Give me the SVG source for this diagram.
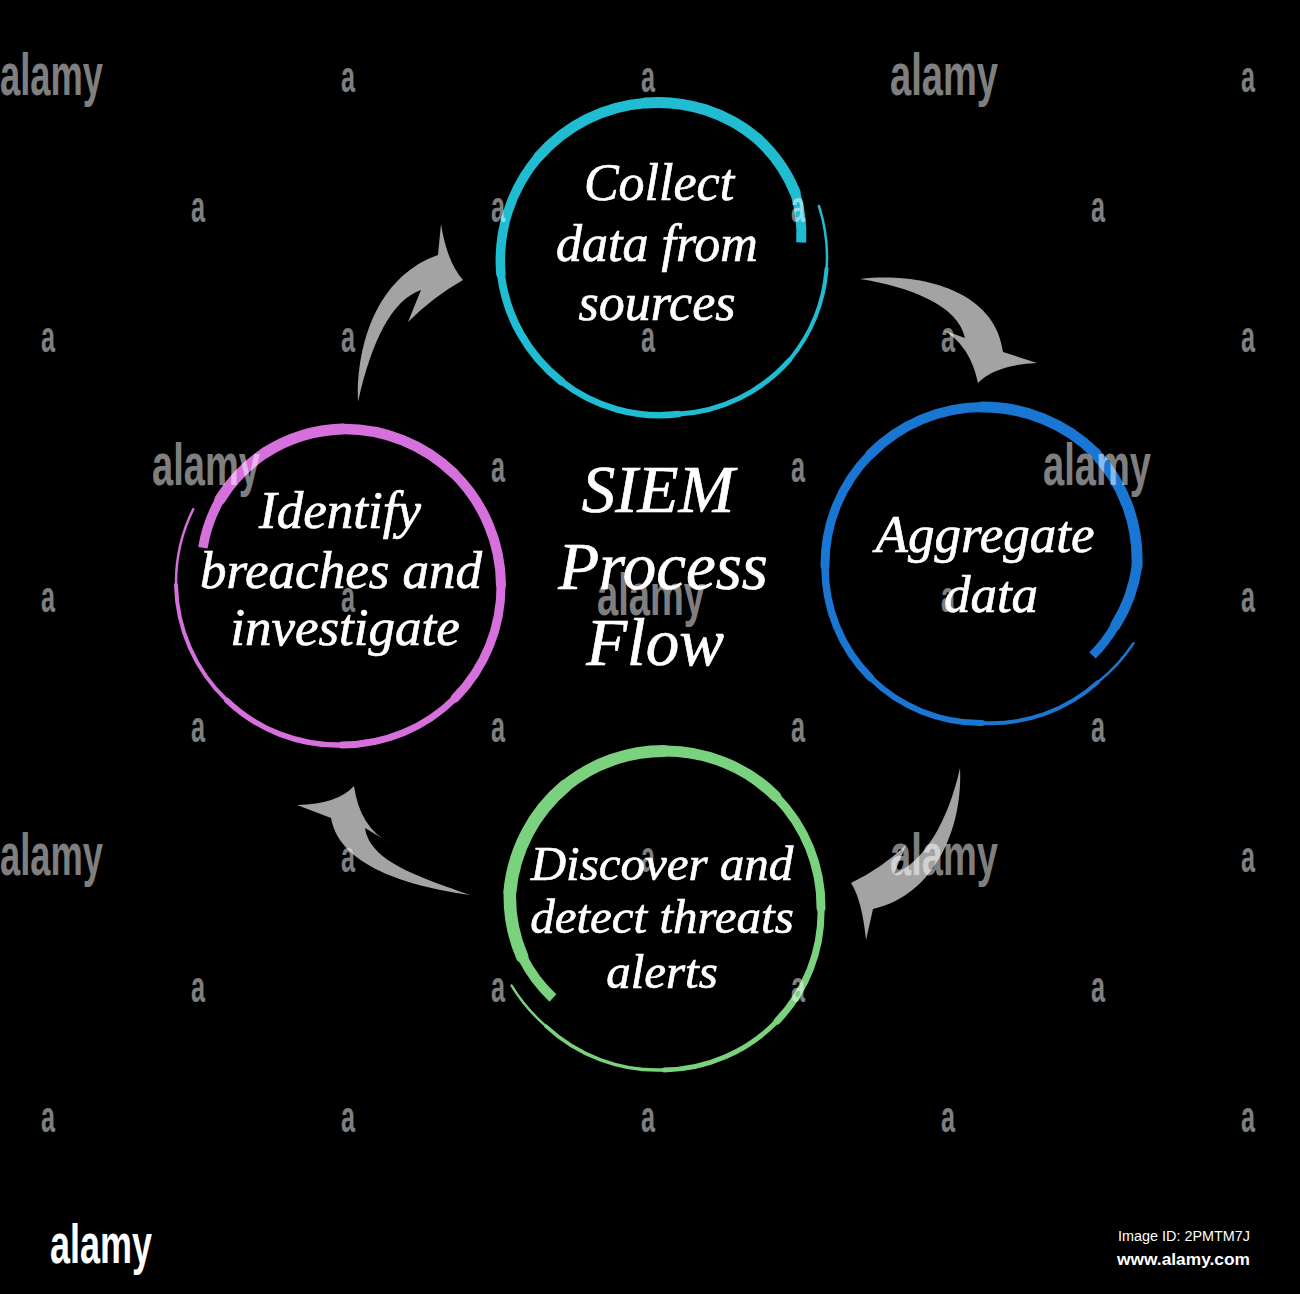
<svg xmlns="http://www.w3.org/2000/svg" width="1300" height="1294" viewBox="0 0 1300 1294">
<style>
.seg{fill:none;stroke-linecap:round}
.b{stroke-linecap:butt}
.cy{stroke:#1fbcd2}
.bl{stroke:#1976d2}
.pk{stroke:#d670dc}
.gr{stroke:#7ad27e}
.lbl{font-family:"Liberation Serif","Times New Roman",serif;font-style:italic;fill:#ffffff;stroke:#ffffff;stroke-width:0.7;text-anchor:middle}
.arrow{fill:#a3a3a3}
.wm{font-family:"Liberation Sans",Arial,sans-serif;font-weight:bold;fill:#ffffff;fill-opacity:0.5}
.ft{font-family:"Liberation Sans",Arial,sans-serif;fill:#ffffff}
</style>
<rect x="0" y="0" width="1300" height="1294" fill="#000000"/>

<g id="connectors">
<path class="arrow" d="M358,402 C356,340 380,275 438,255 L441,224 Q447,262 463,280 Q433,297 408,322 L421,290 C392,300 372,340 358,402 Z"/>
<path class="arrow" d="M860,279 C920,272 995,290 1003,352 L1037,363 Q995,365 978,383 Q970,345 943,330 L965,338 C958,305 910,287 860,279 Z"/>
<path class="arrow" d="M960,768 C963,828 935,895 873,909 L866,940 Q862,900 851,883 Q882,868 906,845 L894,874 C924,862 948,822 960,768 Z"/>
<path class="arrow" d="M470,895 C420,888 340,870 331,818 L297,805 Q338,804 354,786 Q360,828 390,843 L365,828 C370,862 420,877 470,895 Z"/>
</g>

<g id="node-collect">
<path class="seg b cy" stroke-width="10" d="M801.2,242.4 A144,144 0 0 0 795.0,192.1"/>
<path class="seg cy" stroke-width="11" d="M795.0,192.1 A150,150 0 0 0 757.7,138.9"/>
<path class="seg cy" stroke-width="11" d="M757.7,138.9 A154,154 0 0 0 645.8,102.9"/>
<path class="seg cy" stroke-width="10.5" d="M645.8,102.9 A157,157 0 0 0 538.4,156.9"/>
<path class="seg cy" stroke-width="9.5" d="M538.4,156.9 A160,160 0 0 0 500.9,273.9"/>
<path class="seg cy" stroke-width="8" d="M500.9,273.9 A161,161 0 0 0 561.3,381.3"/>
<path class="seg cy" stroke-width="6.5" d="M561.3,381.3 A159,159 0 0 0 678.5,414.1"/>
<path class="seg cy" stroke-width="5" d="M678.5,414.1 A161,161 0 0 0 789.4,360.2"/>
<path class="seg cy" stroke-width="4" d="M789.4,360.2 A164,164 0 0 0 826.6,268.5"/>
<path class="seg cy" stroke-width="2.5" d="M826.6,268.5 A165,165 0 0 0 818.9,206.0"/>
<text class="lbl" font-size="52" x="659" y="200">Collect</text>
<text class="lbl" font-size="52" x="657" y="261">data from</text>
<text class="lbl" font-size="52" x="657" y="320">sources</text>
</g>

<g id="node-aggregate">
<path class="seg b bl" stroke-width="9" d="M1092.4,655.4 A144,144 0 0 0 1115.4,625.4"/>
<path class="seg bl" stroke-width="10.5" d="M1115.4,625.4 A150,150 0 0 0 1137,566"/>
<path class="seg bl" stroke-width="11" d="M1137,566 A157,157 0 0 0 1095.1,452.9"/>
<path class="seg bl" stroke-width="11" d="M1095.1,452.9 A160,160 0 0 0 982,407"/>
<path class="seg bl" stroke-width="10" d="M982,407 A158,158 0 0 0 870.3,454.3"/>
<path class="seg bl" stroke-width="9" d="M870.3,454.3 A157,157 0 0 0 825,566"/>
<path class="seg bl" stroke-width="7.5" d="M825,566 A157,157 0 0 0 870.3,677.7"/>
<path class="seg bl" stroke-width="6" d="M870.3,677.7 A157,157 0 0 0 982,723"/>
<path class="seg bl" stroke-width="4" d="M982,723 A160,160 0 0 0 1098,682"/>
<path class="seg bl" stroke-width="2.5" d="M1098,682 A167,167 0 0 0 1133.5,643.2"/>
<text class="lbl" font-size="53" x="985" y="552">Aggregate</text>
<text class="lbl" font-size="53" x="991" y="612">data</text>
</g>

<g id="node-discover">
<path class="seg b gr" stroke-width="10" d="M552.9,998.0 A146,146 0 0 1 522.2,956.8"/>
<path class="seg gr" stroke-width="12.5" d="M522.2,956.8 A152,152 0 0 1 509.9,891.8"/>
<path class="seg gr" stroke-width="13" d="M509.9,891.8 A156,156 0 0 1 565.2,786.0"/>
<path class="seg gr" stroke-width="12" d="M565.2,786.0 A157,157 0 0 1 664,751"/>
<path class="seg gr" stroke-width="11" d="M664,751 A157,157 0 0 1 775.7,796.3"/>
<path class="seg gr" stroke-width="9" d="M775.7,796.3 A157,157 0 0 1 821,908"/>
<path class="seg gr" stroke-width="7" d="M821,908 A158,158 0 0 1 777.1,1021.1"/>
<path class="seg gr" stroke-width="5" d="M777.1,1021.1 A161,161 0 0 1 664,1070"/>
<path class="seg gr" stroke-width="3.5" d="M664,1070 A164,164 0 0 1 545.9,1026.1"/>
<path class="seg gr" stroke-width="2.5" d="M545.9,1026.1 A169,169 0 0 1 511.6,985.6"/>
<text class="lbl" font-size="49" x="662" y="880">Discover and</text>
<text class="lbl" font-size="49" x="662" y="933">detect threats</text>
<text class="lbl" font-size="49" x="662" y="988">alerts</text>
</g>

<g id="node-identify">
<path class="seg b pk" stroke-width="9.5" d="M202.9,547.7 A146,146 0 0 1 219.9,499.5"/>
<path class="seg pk" stroke-width="11" d="M219.9,499.5 A151,151 0 0 1 265.5,452.5"/>
<path class="seg pk" stroke-width="11" d="M265.5,452.5 A154,154 0 0 1 342,429"/>
<path class="seg pk" stroke-width="10.5" d="M342,429 A157,157 0 0 1 453.7,473.3"/>
<path class="seg pk" stroke-width="10" d="M453.7,473.3 A158,158 0 0 1 501,585"/>
<path class="seg pk" stroke-width="9" d="M501,585 A159,159 0 0 1 455.1,698.1"/>
<path class="seg pk" stroke-width="7" d="M455.1,698.1 A160,160 0 0 1 342,745"/>
<path class="seg pk" stroke-width="5.5" d="M342,745 A161,161 0 0 1 226.7,700.3"/>
<path class="seg pk" stroke-width="4" d="M226.7,700.3 A164,164 0 0 1 176,585"/>
<path class="seg pk" stroke-width="2.5" d="M176,585 A166,166 0 0 1 193.2,509.2"/>
<text class="lbl" font-size="53" x="340" y="528">Identify</text>
<text class="lbl" font-size="53" x="341" y="588">breaches and</text>
<text class="lbl" font-size="53" x="345" y="645">investigate</text>
</g>

<g id="title">
<text class="lbl" font-size="67" x="658" y="512">SIEM</text>
<text class="lbl" font-size="67" x="663" y="589">Process</text>
<text class="lbl" font-size="67" x="655" y="665">Flow</text>
</g>

<g id="watermark">
<text class="wm" font-size="60" x="0" y="95" textLength="103" lengthAdjust="spacingAndGlyphs">alamy</text>
<text class="wm" font-size="60" x="890" y="95" textLength="108" lengthAdjust="spacingAndGlyphs">alamy</text>
<text class="wm" font-size="60" x="152" y="485" textLength="108" lengthAdjust="spacingAndGlyphs">alamy</text>
<text class="wm" font-size="60" x="1043" y="485" textLength="108" lengthAdjust="spacingAndGlyphs">alamy</text>
<text class="wm" font-size="60" x="597" y="615" textLength="108" lengthAdjust="spacingAndGlyphs">alamy</text>
<text class="wm" font-size="60" x="0" y="875" textLength="103" lengthAdjust="spacingAndGlyphs">alamy</text>
<text class="wm" font-size="60" x="890" y="875" textLength="108" lengthAdjust="spacingAndGlyphs">alamy</text>
<g text-anchor="middle" font-size="44">
<text class="wm" x="348" y="92" textLength="14" lengthAdjust="spacingAndGlyphs">a</text>
<text class="wm" x="648" y="92" textLength="14" lengthAdjust="spacingAndGlyphs">a</text>
<text class="wm" x="1248" y="92" textLength="14" lengthAdjust="spacingAndGlyphs">a</text>
<text class="wm" x="198" y="222" textLength="14" lengthAdjust="spacingAndGlyphs">a</text>
<text class="wm" x="498" y="222" textLength="14" lengthAdjust="spacingAndGlyphs">a</text>
<text class="wm" x="798" y="222" textLength="14" lengthAdjust="spacingAndGlyphs">a</text>
<text class="wm" x="1098" y="222" textLength="14" lengthAdjust="spacingAndGlyphs">a</text>
<text class="wm" x="48" y="352" textLength="14" lengthAdjust="spacingAndGlyphs">a</text>
<text class="wm" x="348" y="352" textLength="14" lengthAdjust="spacingAndGlyphs">a</text>
<text class="wm" x="648" y="352" textLength="14" lengthAdjust="spacingAndGlyphs">a</text>
<text class="wm" x="948" y="352" textLength="14" lengthAdjust="spacingAndGlyphs">a</text>
<text class="wm" x="1248" y="352" textLength="14" lengthAdjust="spacingAndGlyphs">a</text>
<text class="wm" x="498" y="482" textLength="14" lengthAdjust="spacingAndGlyphs">a</text>
<text class="wm" x="798" y="482" textLength="14" lengthAdjust="spacingAndGlyphs">a</text>
<text class="wm" x="48" y="612" textLength="14" lengthAdjust="spacingAndGlyphs">a</text>
<text class="wm" x="348" y="612" textLength="14" lengthAdjust="spacingAndGlyphs">a</text>
<text class="wm" x="948" y="612" textLength="14" lengthAdjust="spacingAndGlyphs">a</text>
<text class="wm" x="1248" y="612" textLength="14" lengthAdjust="spacingAndGlyphs">a</text>
<text class="wm" x="198" y="742" textLength="14" lengthAdjust="spacingAndGlyphs">a</text>
<text class="wm" x="498" y="742" textLength="14" lengthAdjust="spacingAndGlyphs">a</text>
<text class="wm" x="798" y="742" textLength="14" lengthAdjust="spacingAndGlyphs">a</text>
<text class="wm" x="1098" y="742" textLength="14" lengthAdjust="spacingAndGlyphs">a</text>
<text class="wm" x="348" y="872" textLength="14" lengthAdjust="spacingAndGlyphs">a</text>
<text class="wm" x="648" y="872" textLength="14" lengthAdjust="spacingAndGlyphs">a</text>
<text class="wm" x="1248" y="872" textLength="14" lengthAdjust="spacingAndGlyphs">a</text>
<text class="wm" x="198" y="1002" textLength="14" lengthAdjust="spacingAndGlyphs">a</text>
<text class="wm" x="498" y="1002" textLength="14" lengthAdjust="spacingAndGlyphs">a</text>
<text class="wm" x="798" y="1002" textLength="14" lengthAdjust="spacingAndGlyphs">a</text>
<text class="wm" x="1098" y="1002" textLength="14" lengthAdjust="spacingAndGlyphs">a</text>
<text class="wm" x="48" y="1132" textLength="14" lengthAdjust="spacingAndGlyphs">a</text>
<text class="wm" x="348" y="1132" textLength="14" lengthAdjust="spacingAndGlyphs">a</text>
<text class="wm" x="648" y="1132" textLength="14" lengthAdjust="spacingAndGlyphs">a</text>
<text class="wm" x="948" y="1132" textLength="14" lengthAdjust="spacingAndGlyphs">a</text>
<text class="wm" x="1248" y="1132" textLength="14" lengthAdjust="spacingAndGlyphs">a</text>
</g>
</g>

<g id="footer">
<text class="ft" font-weight="bold" font-size="56" x="50" y="1263" textLength="102" lengthAdjust="spacingAndGlyphs">alamy</text>
<text class="ft" font-size="14" x="1250" y="1241" text-anchor="end" textLength="132" lengthAdjust="spacingAndGlyphs">Image ID: 2PMTM7J</text>
<text class="ft" font-size="17" font-weight="bold" x="1250" y="1265" text-anchor="end" textLength="133" lengthAdjust="spacingAndGlyphs">www.alamy.com</text>
</g>
</svg>
